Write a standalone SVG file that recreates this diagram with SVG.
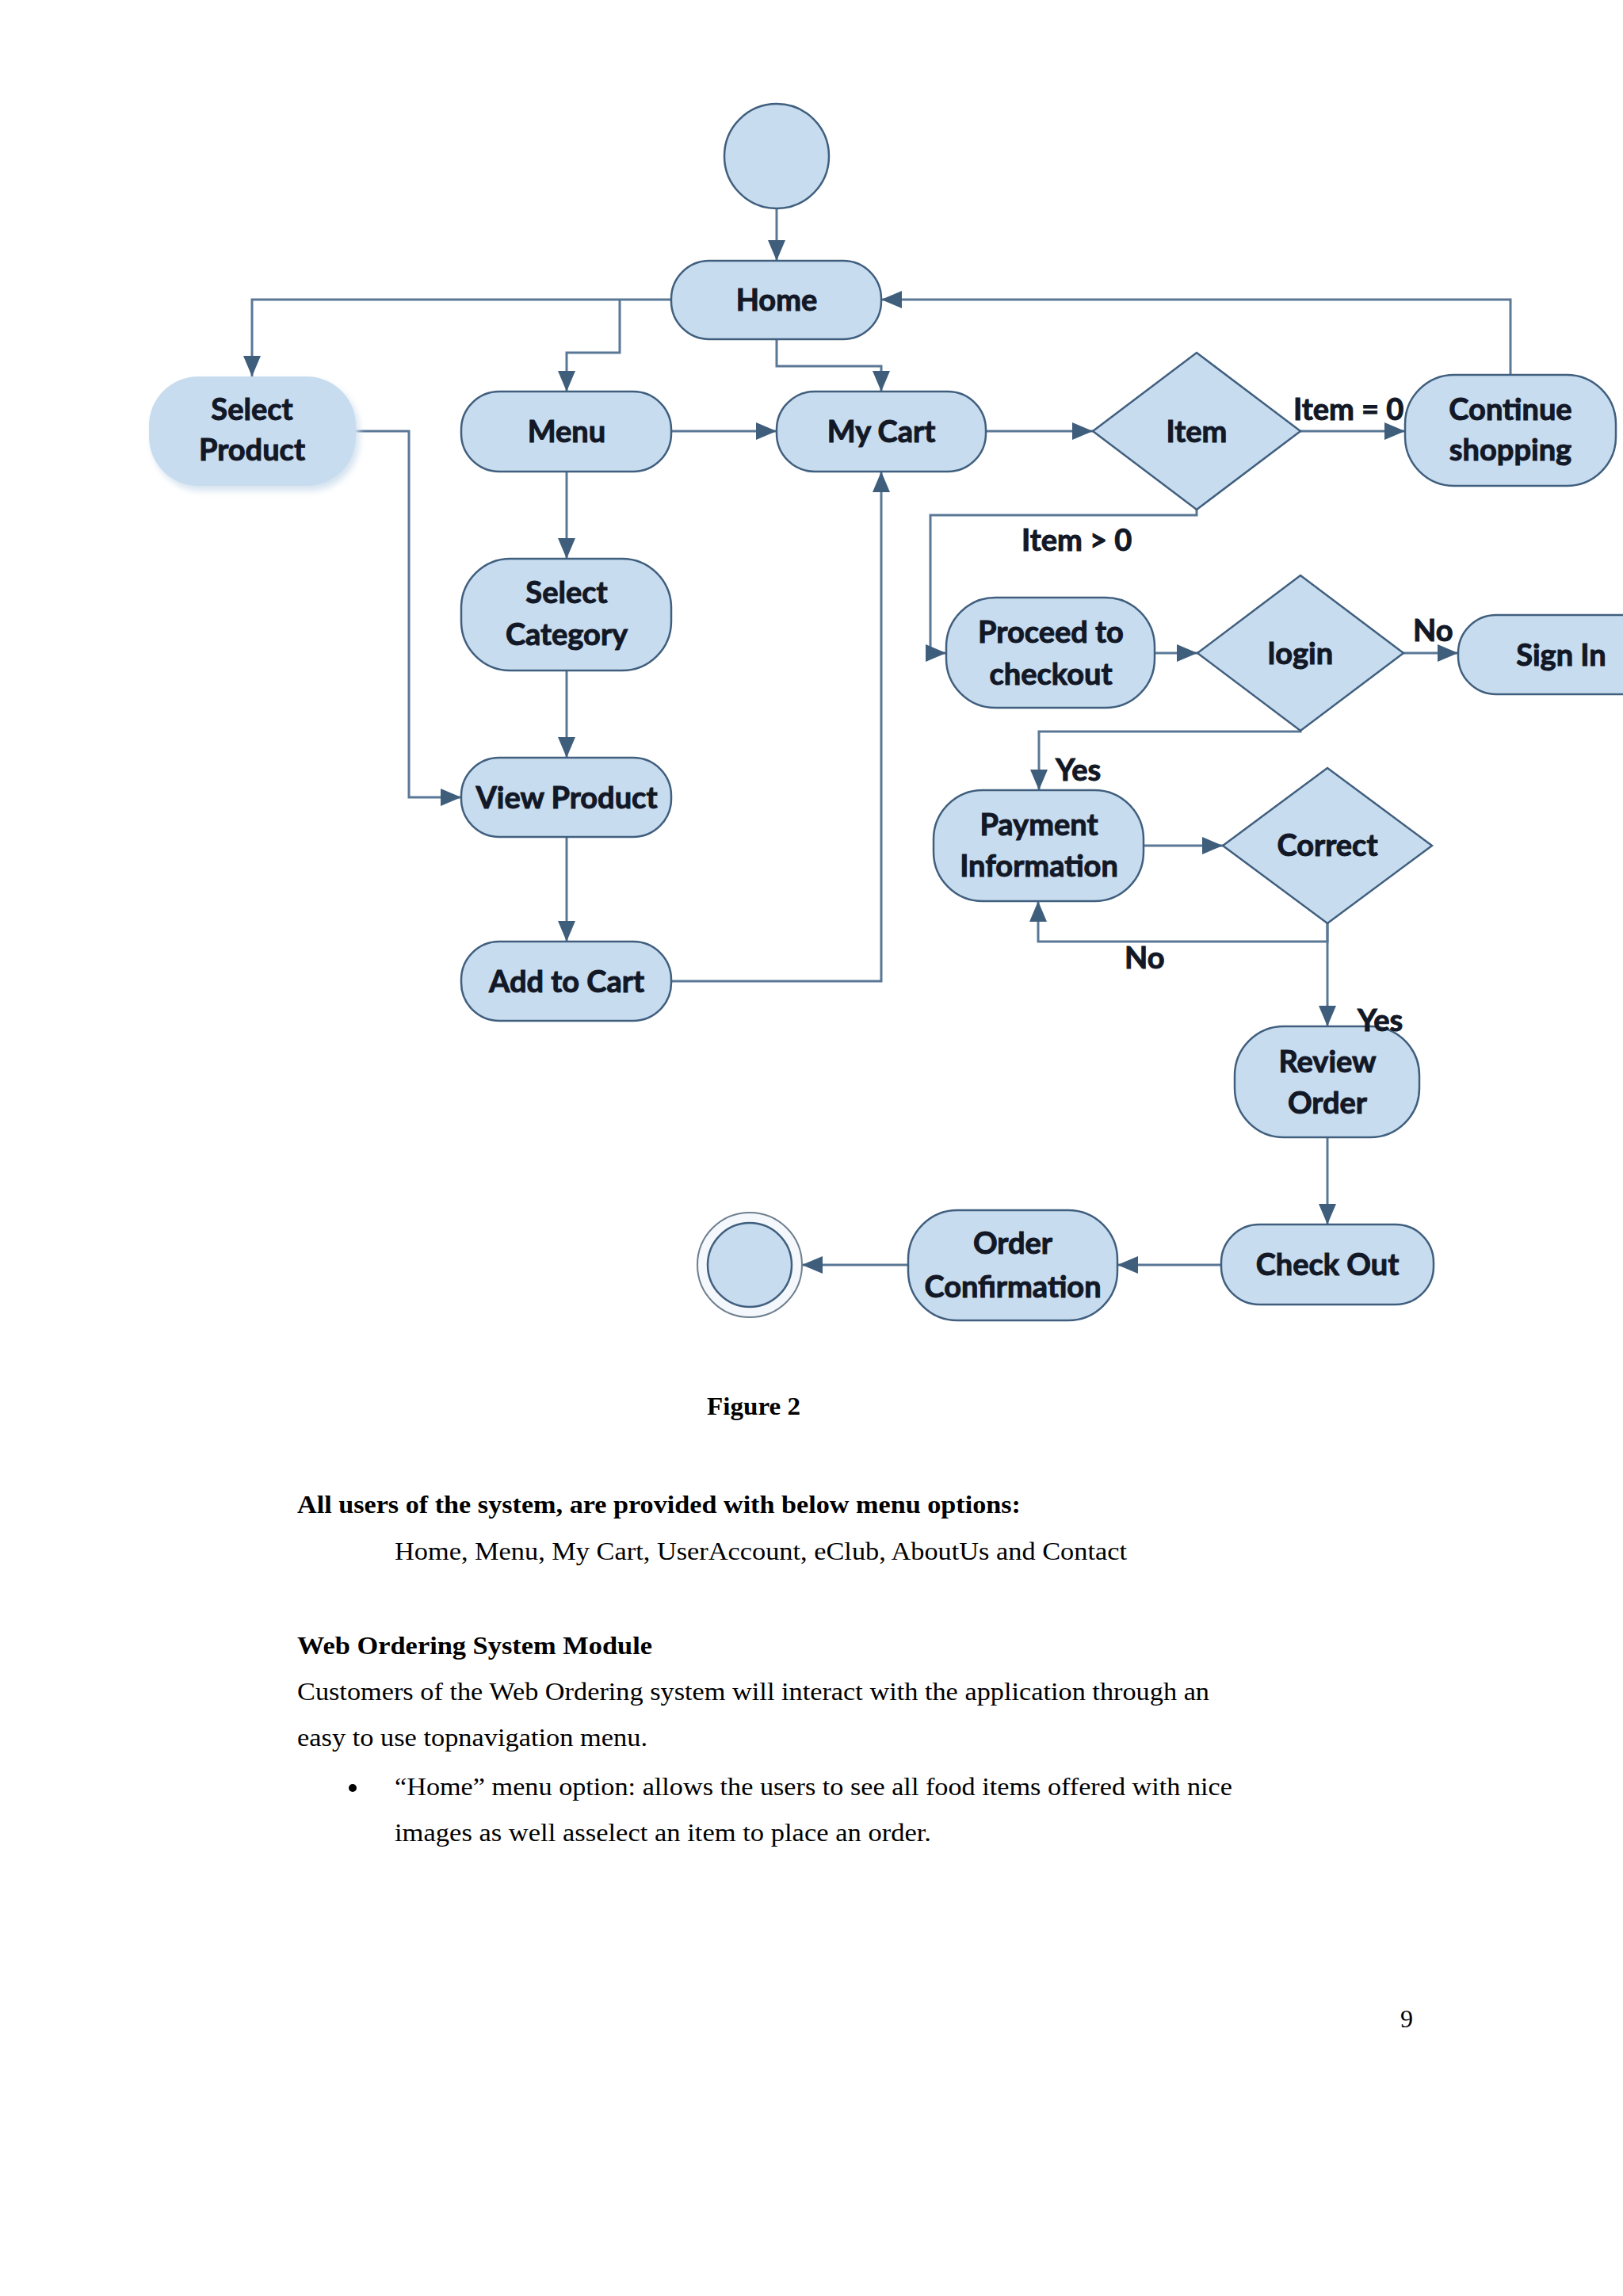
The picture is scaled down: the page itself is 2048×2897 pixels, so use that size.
<svg xmlns="http://www.w3.org/2000/svg" width="2048" height="2897" viewBox="0 0 2048 2897">
<defs>
<marker id="arr" markerUnits="userSpaceOnUse" markerWidth="28" markerHeight="28" viewBox="0 0 28 28" refX="26" refY="14" orient="auto">
<path d="M0,3 L26,14 L0,25 Z" fill="#3f5e7c"/>
</marker>
<filter id="blur" x="-20%" y="-20%" width="140%" height="140%">
<feGaussianBlur stdDeviation="4"/>
</filter>
</defs>
<style>
.n{fill:#c8dcef;stroke:#405f7e;stroke-width:2.5}
.c{fill:none;stroke:#5a7896;stroke-width:3}
.a{marker-end:url(#arr)}
.t{font-family:Lato,"Noto Sans",sans-serif;font-weight:700;font-size:38px;fill:#121826;stroke:#121826;stroke-width:1;text-anchor:middle}
.l{font-family:Lato,"Noto Sans",sans-serif;font-weight:700;font-size:38px;fill:#121826;stroke:#121826;stroke-width:1}
.b{font-family:"Liberation Serif","Times New Roman",serif;font-size:32px;fill:#000}
.bb{font-family:"Liberation Serif","Times New Roman",serif;font-size:32px;font-weight:700;fill:#000}
</style>
<rect width="2048" height="2897" fill="#ffffff"/>

<g id="connectors">
<path class="c a" d="M980,263 V329"/>
<path class="c a" d="M847,378 H318 V475"/>
<path class="c a" d="M782,378 V445 H715 V494"/>
<path class="c a" d="M980,428 V462 H1112 V494"/>
<path class="c a" d="M847,544 H980"/>
<path class="c a" d="M1244,544 H1379"/>
<path class="c a" d="M1641,544 H1773"/>
<path class="c a" d="M1906,473 V378 H1112"/>
<path class="c a" d="M1510,643 V650 H1174 V824 H1194"/>
<path class="c a" d="M1457,824 H1511"/>
<path class="c a" d="M1771,824 H1840"/>
<path class="c a" d="M1641,922 V923 H1311 V997"/>
<path class="c a" d="M1443,1067 H1543"/>
<path class="c a" d="M1675,1165 V1188 H1310 V1137"/>
<path class="c a" d="M1675,1165 V1295"/>
<path class="c a" d="M1675,1435 V1545"/>
<path class="c a" d="M1541,1596 H1410"/>
<path class="c a" d="M1146,1596 H1012"/>
<path class="c a" d="M449,544 H516 V1006 H582"/>
<path class="c a" d="M715,595 V705"/>
<path class="c a" d="M715,846 V956"/>
<path class="c a" d="M715,1056 V1188"/>
<path class="c a" d="M847,1238 H1112 V595"/>
</g>

<g id="start"><circle class="n" cx="980" cy="197" r="66"/></g>
<g id="home"><rect class="n" x="847" y="329" width="265" height="99" rx="48"/><text class="t" x="980" y="392">Home</text></g>
<g id="select-product">
<rect x="192" y="481" width="261" height="138" rx="62" fill="#d4e2ef" filter="url(#blur)"/>
<rect x="188" y="475" width="261" height="138" rx="62" fill="#c8dcef"/>
<text class="t" x="318" y="530">Select</text><text class="t" x="318" y="581">Product</text></g>
<g id="menu"><rect class="n" x="582" y="494" width="265" height="101" rx="48"/><text class="t" x="715" y="558">Menu</text></g>
<g id="my-cart"><rect class="n" x="980" y="494" width="264" height="101" rx="48"/><text class="t" x="1112" y="558">My Cart</text></g>
<g id="item"><polygon class="n" points="1379,544 1510,445 1641,544 1510,643"/><text class="t" x="1510" y="558">Item</text></g>
<g id="continue-shopping"><rect class="n" x="1773" y="473" width="266" height="140" rx="62"/><text class="t" x="1906" y="530">Continue</text><text class="t" x="1906" y="581">shopping</text></g>
<g id="select-category"><rect class="n" x="582" y="705" width="265" height="141" rx="62"/><text class="t" x="715" y="761">Select</text><text class="t" x="715" y="814">Category</text></g>
<g id="view-product"><rect class="n" x="582" y="956" width="265" height="100" rx="48"/><text class="t" x="715" y="1020">View Product</text></g>
<g id="add-to-cart"><rect class="n" x="582" y="1188" width="265" height="100" rx="48"/><text class="t" x="715" y="1252">Add to Cart</text></g>
<g id="proceed"><rect class="n" x="1194" y="754" width="263" height="139" rx="62"/><text class="t" x="1326" y="811">Proceed to</text><text class="t" x="1326" y="864">checkout</text></g>
<g id="login"><polygon class="n" points="1511,824 1641,726 1771,824 1641,922"/><text class="t" x="1641" y="838">login</text></g>
<g id="sign-in"><rect class="n" x="1840" y="776" width="260" height="100" rx="48"/><text class="t" x="1970" y="840">Sign In</text></g>
<g id="payment"><rect class="n" x="1178" y="997" width="265" height="140" rx="62"/><text class="t" x="1311" y="1054">Payment</text><text class="t" x="1311" y="1106">Information</text></g>
<g id="correct"><polygon class="n" points="1543,1067 1675,969 1807,1067 1675,1165"/><text class="t" x="1675" y="1080">Correct</text></g>
<g id="review-order"><rect class="n" x="1558" y="1295" width="233" height="140" rx="62"/><text class="t" x="1675" y="1353">Review</text><text class="t" x="1675" y="1405">Order</text></g>
<g id="check-out"><rect class="n" x="1541" y="1545" width="268" height="101" rx="48"/><text class="t" x="1675" y="1609">Check Out</text></g>
<g id="order-confirmation"><rect class="n" x="1146" y="1527" width="264" height="139" rx="62"/><text class="t" x="1278" y="1582">Order</text><text class="t" x="1278" y="1637">Confirmation</text></g>
<g id="end"><circle cx="946" cy="1596" r="66" fill="#f4f8fc" stroke="#6f7f8f" stroke-width="2"/><circle class="n" cx="946" cy="1596" r="53"/></g>

<g id="labels">
<text class="l" x="1632" y="530">Item = 0</text>
<text class="l" x="1289" y="695">Item &gt; 0</text>
<text class="l" x="1783" y="809">No</text>
<text class="l" x="1332" y="985">Yes</text>
<text class="l" x="1419" y="1222">No</text>
<text class="l" x="1713" y="1301">Yes</text>
</g>

<g id="page-text">
<text class="bb" x="892" y="1785" textLength="118" lengthAdjust="spacingAndGlyphs">Figure 2</text>
<text class="bb" x="375" y="1909" textLength="913" lengthAdjust="spacingAndGlyphs">All users of the system, are provided with below menu options:</text>
<text class="b" x="498" y="1968" textLength="924" lengthAdjust="spacingAndGlyphs">Home, Menu, My Cart, UserAccount, eClub, AboutUs and Contact</text>
<text class="bb" x="375" y="2087" textLength="448" lengthAdjust="spacingAndGlyphs">Web Ordering System Module</text>
<text class="b" x="375" y="2145" textLength="1151" lengthAdjust="spacingAndGlyphs">Customers of the Web Ordering system will interact with the application through an</text>
<text class="b" x="375" y="2203" textLength="442" lengthAdjust="spacingAndGlyphs">easy to use topnavigation menu.</text>
<circle cx="445" cy="2256" r="5" fill="#000"/>
<text class="b" x="498" y="2265" textLength="1057" lengthAdjust="spacingAndGlyphs">“Home” menu option: allows the users to see all food items offered with nice</text>
<text class="b" x="498" y="2323" textLength="677" lengthAdjust="spacingAndGlyphs">images as well asselect an item to place an order.</text>
<text class="b" x="1767" y="2558">9</text>
</g>
</svg>
